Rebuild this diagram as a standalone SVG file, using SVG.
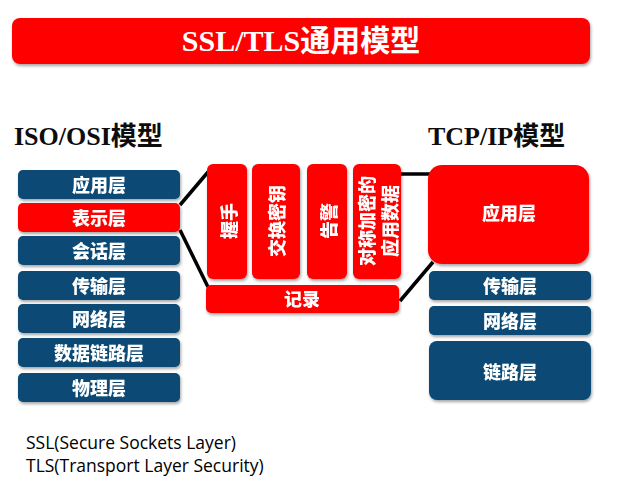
<svg xmlns="http://www.w3.org/2000/svg" width="631" height="484" viewBox="0 0 631 484">
<style>
.b{fill:#074A74}.r{fill:#FF0000}
.t{font-family:"Noto Sans CJK SC",sans-serif;font-weight:900;fill:#fff;font-size:18px;text-anchor:middle;dominant-baseline:central}
.h{font-family:"Liberation Serif","Noto Sans CJK SC",serif;font-weight:bold;fill:#0d0d0d;font-size:26px}
.f{font-family:"Open Sans","Noto Sans CJK SC",sans-serif;font-size:17.5px;fill:#000}
</style>
<defs><filter id="s"><feDropShadow dx="1" dy="2" stdDeviation="1.5" flood-color="#000" flood-opacity="0.35"/></filter></defs>
<g id="title"><rect class="r" x="12" y="18" width="578" height="46" rx="8" filter="url(#s)"/><text class="t" x="301" y="40" style="font-family:'Liberation Serif','Noto Sans CJK SC',serif;font-weight:bold;font-size:30px">SSL/TLS通用模型</text></g>
<text class="h" x="14" y="145">ISO/OSI模型</text>
<text class="h" x="428" y="145">TCP/IP模型</text>
<g id="connectors" stroke="#000" stroke-width="3.5">
<line x1="180" y1="205" x2="208" y2="172"/><line x1="180" y1="230" x2="208" y2="287"/>
<line x1="401" y1="174" x2="430" y2="174"/><line x1="400" y1="301" x2="433" y2="262"/>
</g>
<g filter="url(#s)">
<g id="osi-app"><rect class="b" x="18" y="170" width="162" height="29" rx="5"/><text class="t" x="99" y="184">应用层</text></g>
<g id="osi-pres"><rect class="r" x="18" y="203" width="162" height="29" rx="5"/><text class="t" x="99" y="217">表示层</text></g>
<g id="osi-sess"><rect class="b" x="18" y="236" width="162" height="29" rx="5"/><text class="t" x="99" y="250">会话层</text></g>
<g id="osi-trans"><rect class="b" x="18" y="271" width="162" height="29" rx="5"/><text class="t" x="99" y="285">传输层</text></g>
<g id="osi-net"><rect class="b" x="18" y="304" width="162" height="29" rx="5"/><text class="t" x="99" y="318">网络层</text></g>
<g id="osi-dl"><rect class="b" x="18" y="338" width="162" height="29" rx="5"/><text class="t" x="99" y="352">数据链路层</text></g>
<g id="osi-phy"><rect class="b" x="18" y="373" width="162" height="29" rx="5"/><text class="t" x="99" y="387">物理层</text></g>
<g id="handshake"><rect class="r" x="207" y="164" width="40" height="115" rx="6"/><text class="t" transform="translate(228,221) rotate(-90)">握手</text></g>
<g id="keyex"><rect class="r" x="252" y="164" width="48" height="115" rx="6"/><text class="t" transform="translate(276,221) rotate(-90)">交换密钥</text></g>
<g id="alert"><rect class="r" x="307" y="164" width="40" height="115" rx="6"/><text class="t" transform="translate(328,221) rotate(-90)">告警</text></g>
<g id="appdata"><rect class="r" x="353" y="164" width="48" height="115" rx="6"/><text class="t" transform="translate(366,221) rotate(-90)">对称加密的</text><text class="t" transform="translate(389,221) rotate(-90)">应用数据</text></g>
<g id="record"><rect class="r" x="206" y="285" width="193" height="28" rx="5"/><text class="t" x="302" y="298">记录</text></g>
<g id="tcp-app"><rect class="r" x="428" y="165" width="161" height="99" rx="14"/><text class="t" x="509" y="212">应用层</text></g>
<g id="tcp-trans"><rect class="b" x="429" y="271" width="162" height="29" rx="5"/><text class="t" x="510" y="285">传输层</text></g>
<g id="tcp-net"><rect class="b" x="429" y="306" width="162" height="29" rx="5"/><text class="t" x="510" y="320">网络层</text></g>
<g id="tcp-link"><rect class="b" x="429" y="341" width="162" height="59" rx="8"/><text class="t" x="510" y="371">链路层</text></g>
</g>
<text class="f" x="26" y="449">SSL(Secure Sockets Layer)</text>
<text class="f" x="26" y="472">TLS(Transport Layer Security)</text>
</svg>
